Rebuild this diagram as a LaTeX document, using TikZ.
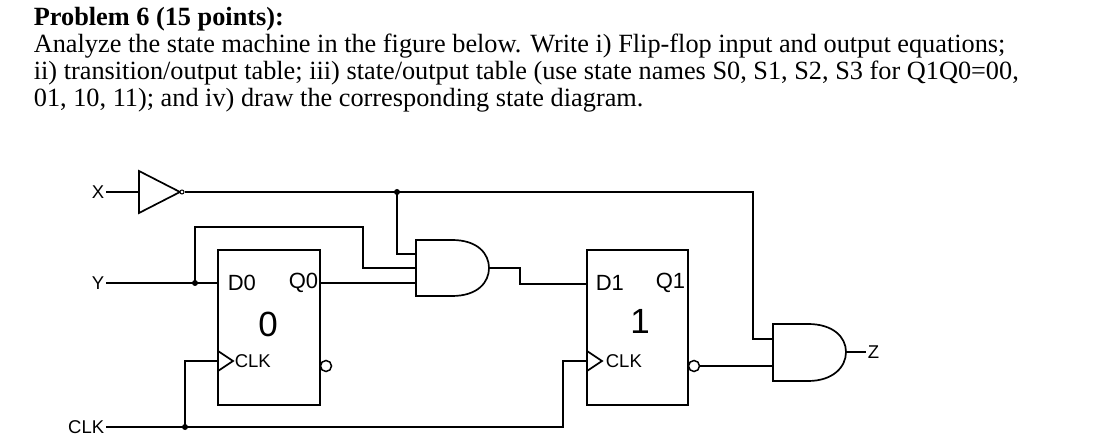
\documentclass[tikz,border=0pt]{standalone}
\usepackage{fontspec}
\setmainfont{Liberation Serif}
\newfontfamily\arial{Liberation Sans}
\begin{document}
\begin{tikzpicture}[x=1pt,y=-1pt,line width=1.7pt,
  body/.style={anchor=base west,inner sep=0pt,font=\fontsize{26.3}{30}\selectfont},
  lbl/.style={inner sep=1pt,font=\arial\fontsize{18.5}{20}\selectfont},
  pin/.style={inner sep=1pt,font=\arial\fontsize{22}{24}\selectfont},
  big/.style={inner sep=0pt,font=\arial\fontsize{35}{37}\selectfont},
  dot/.style={circle,fill,inner sep=0pt,minimum size=6pt},
  bub/.style={circle,draw,fill=white,inner sep=0pt,minimum size=11pt,line width=1.5pt}]
\useasboundingbox (0,0) rectangle (1103,443);
% text
\node[body,font=\bfseries\fontsize{26.3}{30}\selectfont] (t0) at (33,26) {Problem 6 (15 points):};
\node[body] (t1) at (33,53) {Analyze the state machine in the figure below. Write i) Flip-flop input and output equations;};
\node[body] (t2) at (33,80) {ii) transition/output table; iii) state/output table (use state names S0, S1, S2, S3 for Q1Q0=00,};
\node[body] (t3) at (33,107) {01, 10, 11); and iv) draw the corresponding state diagram.};
% labels
\node[lbl,anchor=east] (X) at (106,192) {X};
\node[lbl,anchor=east] (Y) at (106,283) {Y};
\node[lbl,anchor=east] (CLK) at (106,427) {CLK};
\node[lbl,anchor=west] (Z) at (866,352) {Z};
% buffer (inverter)
\draw (139,171) -- (180,192) -- (139,213) -- cycle;
\node[bub,minimum size=4pt,line width=1pt] (nb) at (182,192) {};
\draw (X) -- (139,192);
\coordinate (jx) at (397,192);
\node[dot] (jxd) at (jx) {};
\draw (nb) -- (jx) -- (753,192) -- (753,339) -- (773,339);
% flip-flops
\draw (218,250) rectangle (320,405);
\draw (587,250) rectangle (688,405);
\node[pin,anchor=west] (d0) at (226,283) {D0};
\node[pin,anchor=east] (q0) at (320,283) {Q0};
\node[pin,anchor=west] (d1) at (594,283) {D1};
\node[pin,anchor=east] (q1) at (687,283) {Q1};
\node[big] (n0) at (268,324) {0};
\node[big] (n1) at (640,321) {1};
\draw (218,351) -- (233,361) -- (218,371);
\draw (587,351) -- (602,361) -- (587,371);
\node[lbl,anchor=west] (c0) at (233,361) {CLK};
\node[lbl,anchor=west] (c1) at (604,361) {CLK};
\node[bub] (b0) at (326,366) {};
\node[bub] (b1) at (694,366) {};
% Y
\coordinate (jy) at (195,283);
\node[dot] at (jy) {};
\draw (Y) -- (218,283);
\draw (jy) -- (195,227) -- (363,227) -- (363,268) -- (416,268);
\draw (jx) -- (397,254) -- (416,254);
\draw (320,283) -- (416,283);
% AND1
\draw (416,240) -- (452,240) .. controls (478,240) and (489,254) .. (489,268)
      .. controls (489,282) and (478,296) .. (452,296) -- (416,296) -- cycle;
\draw (489,268) -- (520,268) -- (520,284) -- (587,284);
% AND2
\draw (773,324) -- (808,324) .. controls (833,324) and (846,337) .. (846,352)
      .. controls (846,367) and (833,381) .. (808,381) -- (773,381) -- cycle;
\draw (846,352) -- (Z);
\draw (b1) -- (773,366);
% clock
\coordinate (jc) at (185,427);
\node[dot] at (jc) {};
\draw (CLK) -- (563,427) -- (563,361) -- (587,361);
\draw (jc) -- (185,361) -- (218,361);
\end{tikzpicture}
\end{document}
